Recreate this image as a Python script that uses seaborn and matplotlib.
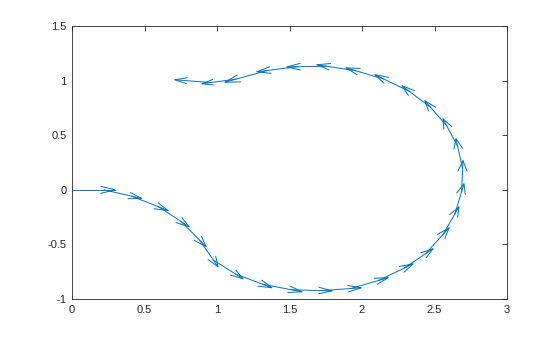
import numpy as np
import pandas as pd
import matplotlib
matplotlib.use("Agg")
import matplotlib.pyplot as plt
import seaborn as sns

# Quiver data: arrow tails (x, y) and vectors (u, v)
qx = [0.0, 0.220, 0.413, 0.598, 0.753, 0.880, 0.974, 1.126, 1.313, 1.515,
      1.721, 1.923, 2.113, 2.290, 2.438, 2.558, 2.640, 2.687, 2.694, 2.660,
      2.585, 2.473, 2.327, 2.151, 1.958, 1.759, 1.554, 1.348, 1.131, 0.958]
qy = [0.0, 0.0, -0.059, -0.156, -0.291, -0.461, -0.642, -0.770, -0.864, -0.916,
      -0.923, -0.904, -0.831, -0.718, -0.586, -0.410, -0.222, -0.017, 0.193, 0.396,
      0.584, 0.755, 0.901, 1.014, 1.090, 1.131, 1.127, 1.093, 1.013, 0.982]
qu = [0.220, 0.193, 0.185, 0.155, 0.127, 0.094, 0.152, 0.187, 0.202, 0.206,
      0.202, 0.190, 0.177, 0.148, 0.120, 0.082, 0.047, 0.007, -0.034, -0.075,
      -0.112, -0.146, -0.176, -0.193, -0.199, -0.205, -0.206, -0.217, -0.173, -0.184]
qv = [0.0, -0.059, -0.097, -0.135, -0.170, -0.181, -0.128, -0.094, -0.052, -0.007,
      0.019, 0.073, 0.113, 0.132, 0.176, 0.188, 0.205, 0.210, 0.203, 0.188,
      0.171, 0.146, 0.113, 0.076, 0.041, -0.004, -0.034, -0.080, -0.031, 0.019]

xticks = [0, 0.5, 1, 1.5, 2, 2.5, 3]
xticklabels = ["0", "0.5", "1", "1.5", "2", "2.5", "3"]
yticks = [-1, -0.5, 0, 0.5, 1, 1.5]
yticklabels = ["-1", "-0.5", "0", "0.5", "1", "1.5"]

AUTOSCALE = 1.35  # quiver auto-scaling factor

x = np.array(qx); y = np.array(qy)
u = np.array(qu) * AUTOSCALE; v = np.array(qv) * AUTOSCALE

# MATLAB-style quiver geometry (stems + open arrowheads)
alpha, beta = 0.33, 0.33
rows = []
seg = 0
for xi, yi, ui, vi in zip(x, y, u, v):
    rows += [(seg, xi, yi), (seg, xi + ui, yi + vi)]
    seg += 1
    tx, ty = xi + ui, yi + vi
    rows += [(seg, tx - alpha * (ui + beta * vi), ty - alpha * (vi - beta * ui)),
             (seg, tx, ty),
             (seg, tx - alpha * (ui - beta * vi), ty - alpha * (vi + beta * ui))]
    seg += 1
df = pd.DataFrame(rows, columns=["seg", "x", "y"])

sns.set_style("white")
plt.rcParams['font.family'] = ['Liberation Sans', 'DejaVu Sans']
plt.rcParams['axes.unicode_minus'] = False

fig = plt.figure(figsize=(5.6, 3.37), dpi=100)
ax = fig.add_axes([72/560, 1-299/337, (507-72)/560, (299-26)/337])
sns.lineplot(data=df, x="x", y="y", units="seg", estimator=None, sort=False,
             color="#0072BD", linewidth=0.7, ax=ax, legend=False)

ax.set_xlim(0, 3)
ax.set_ylim(-1, 1.5)
ax.set_xticks(xticks)
ax.set_xticklabels(xticklabels)
ax.set_yticks(yticks)
ax.set_yticklabels(yticklabels)
ax.set_xlabel("")
ax.set_ylabel("")
ax.tick_params(direction="in", length=3.5, width=0.6, colors="#262626",
               labelsize=8, top=True, right=True, pad=4)
for s in ax.spines.values():
    s.set_color("#262626")
    s.set_linewidth(0.6)
    s.set_visible(True)

fig.savefig("out.png", dpi=100)
